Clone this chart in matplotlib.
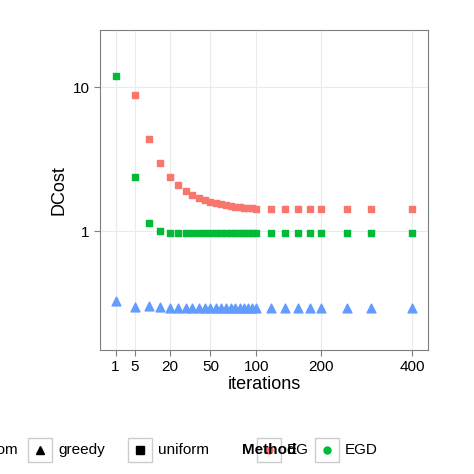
import numpy as np
import matplotlib
matplotlib.use("Agg")
import matplotlib.pyplot as plt
from matplotlib.patches import Rectangle
from matplotlib.lines import Line2D
plt.rcParams['font.family'] = ['Liberation Sans', 'DejaVu Sans']

x_eg = [5,10,15,20,25,30,35,40,45,50,55,60,65,70,75,80,85,90,95,100,120,140,160,180,200,250,300,400]
y_eg = [8.8,4.4,3.0,2.4,2.1,1.9,1.78,1.7,1.64,1.6,1.57,1.54,1.52,1.5,1.48,1.47,1.46,1.45,1.45,1.44,1.43,1.43,1.43,1.42,1.42,1.42,1.42,1.42]
x_g = [1]+x_eg
y_g = [12,2.4,1.15,1.0,0.97,0.97,0.97,0.97,0.97,0.97,0.98,0.98,0.98,0.98,0.98,0.98,0.98,0.98,0.98,0.98,0.98,0.98,0.98,0.98,0.98,0.98,0.98,0.98,0.98]
x_b = [1]+x_eg
y_b = [0.33,0.30,0.305,0.3,0.295,0.295,0.295,0.295,0.295,0.295,0.295,0.295,0.295,0.295,0.295,0.295,0.295,0.295,0.295,0.295,0.295,0.295,0.295,0.295,0.295,0.295,0.295,0.295,0.295]
xticks = [1,5,20,50,100,200,400]

fig = plt.figure(figsize=(4.74,4.74), dpi=100)
ax = fig.add_axes([100/474, 1-350/474, 328/474, 320/474])
ax.set_xscale('function', functions=(np.sqrt, np.square))
ax.set_yscale('log')
ax.scatter(x_b, y_b, marker='^', s=40, color='#619CFF', zorder=3)
ax.scatter(x_eg, y_eg, marker='s', s=25, color='#F8766D', zorder=3)
ax.scatter(x_g, y_g, marker='s', s=25, color='#00BA38', zorder=3)
ax.set_xlim(0.0, 441)
ax.set_ylim(0.15, 25)
ax.set_xticks(xticks)
ax.set_xticklabels([str(t) for t in xticks])
ax.set_yticks([1,10]); ax.set_yticklabels(['1','10'])
ax.yaxis.set_minor_locator(matplotlib.ticker.NullLocator())
ax.grid(True, color='#EBEBEB', lw=0.8)
ax.set_axisbelow(True)
for s in ax.spines.values(): s.set_color('#7F7F7F')
ax.tick_params(labelsize=11, color='#7F7F7F', length=4)
ax.set_xlabel('iterations', fontsize=13, labelpad=1)
ax.set_ylabel('DCost', fontsize=13)

H = 474.0
def fx(p): return p/H
def fy(p): return 1-p/H
def key(cx, marker, color):
    fig.add_artist(Rectangle((fx(cx-12), fy(462)), 24/H, 24/H, transform=fig.transFigure, fc='white', ec='#CCCCCC', lw=1))
    fig.add_artist(Line2D([fx(cx)], [fy(450)], marker=marker, color=color, ms=6 if marker!='o' else 5, transform=fig.transFigure))
fs = 11
fig.text(fx(18), fy(450), 'random', ha='right', va='center', fontsize=fs)
key(40, '^', 'black'); fig.text(fx(58), fy(450), 'greedy', va='center', fontsize=fs)
key(140, 's', 'black'); fig.text(fx(158), fy(450), 'uniform', va='center', fontsize=fs)
fig.text(fx(242), fy(450), 'Method', va='center', fontsize=fs, weight='bold')
key(269, 'o', '#F8766D'); fig.text(fx(287), fy(450), 'EG', va='center', fontsize=fs)
key(327, 'o', '#00BA38'); fig.text(fx(345), fy(450), 'EGD', va='center', fontsize=fs)
fig.savefig('out.png', dpi=100)
